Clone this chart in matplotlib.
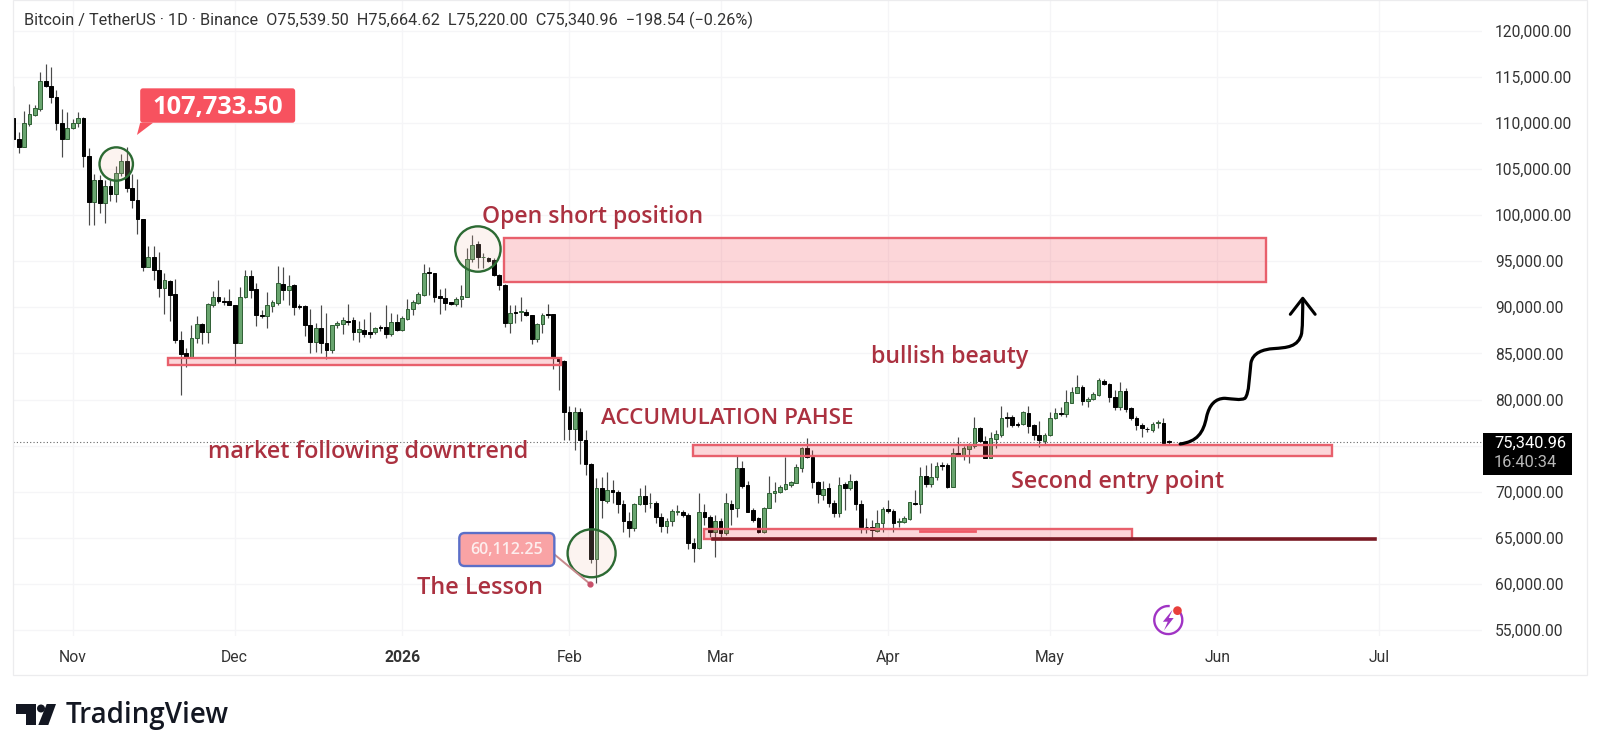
import matplotlib
matplotlib.use("Agg")
import matplotlib.pyplot as plt
from matplotlib.patches import Rectangle, FancyBboxPatch, Ellipse, Polygon, Arc, PathPatch
from matplotlib.path import Path
import numpy as np

# prices in thousands of USD, one candle per day, day 0 = 1 Nov 2025
days = np.arange(-11, 204)

opens = [
    110.5, 108.2, 107.4, 109.87, 110.87, 111.53, 114.52, 114.04, 112.82, 109.95,
    108.2, 109.46, 109.95, 110.5, 106.46, 101.37, 103.77, 101.29, 103.18, 102.25,
    104.58, 105.91, 102.95, 101.59, 99.63, 94.39, 95.42, 94.02, 92.09, 92.86,
    91.42, 86.47, 85.0, 84.64, 86.66, 88.14, 87.29, 90.24, 91.17, 90.72,
    90.69, 90.24, 86.18, 91.09, 93.38, 91.98, 89.14, 89.03, 90.17, 90.43,
    92.56, 91.9, 92.38, 90.13, 90.16, 88.05, 86.24, 87.74, 86.1, 85.36,
    88.05, 88.16, 88.49, 88.57, 87.34, 87.57, 87.28, 87.28, 87.83, 87.83,
    87.09, 88.42, 87.5, 88.75, 89.8, 90.42, 91.38, 93.81, 93.67, 91.24,
    90.97, 90.53, 90.31, 90.94, 91.12, 95.23, 96.85, 95.42, 95.38, 95.12,
    93.46, 92.44, 88.31, 89.49, 89.49, 89.53, 89.16, 86.54, 88.2, 89.24,
    89.26, 84.46, 84.17, 78.6, 76.76, 78.6, 75.6, 72.97, 62.66, 70.36,
    68.98, 70.18, 70.0, 68.66, 66.82, 66.1, 68.66, 69.57, 68.74, 68.74,
    67.29, 66.28, 66.82, 67.8, 67.83, 67.47, 64.47, 63.86, 67.76, 67.29,
    65.66, 66.82, 65.48, 68.63, 68.2, 72.53, 70.72, 68.0, 67.11, 65.66,
    68.2, 69.82, 69.93, 70.29, 70.72, 70.98, 72.57, 74.77, 73.8, 71.09,
    69.64, 70.36, 68.74, 67.66, 70.8, 70.37, 71.2, 68.67, 66.21, 66.21,
    65.78, 66.57, 68.09, 67.95, 66.71, 66.75, 67.04, 68.81, 68.67, 71.7,
    70.8, 71.56, 72.9, 72.9, 70.48, 74.24, 73.91, 74.63, 75.0, 76.87,
    75.5, 73.69, 75.72, 76.15, 78.14, 78.14, 77.35, 77.35, 78.5, 77.2,
    76.15, 75.54, 76.15, 77.96, 78.57, 78.43, 79.66, 80.74, 81.32, 79.87,
    80.02, 80.49, 82.05, 81.65, 80.31, 79.15, 80.96, 79.04, 78.03, 77.24,
    76.84, 76.69, 77.42, 77.49, 75.54,
]
highs = [
    113.95, 109.0, 111.24, 112.05, 111.9, 115.48, 116.44, 116.03, 113.56, 111.53,
    111.13, 110.43, 111.13, 110.68, 107.25, 104.51, 104.33, 103.77, 103.77, 105.32,
    106.65, 107.38, 104.51, 103.96, 99.63, 96.68, 96.6, 95.95, 93.74, 92.94,
    93.08, 87.4, 85.55, 88.06, 89.03, 88.29, 90.43, 91.72, 93.01, 91.17,
    91.98, 90.24, 92.2, 94.02, 94.02, 92.64, 89.69, 91.61, 90.8, 94.47,
    94.39, 93.45, 92.56, 90.35, 90.24, 89.87, 88.31, 90.24, 89.42, 88.13,
    88.49, 88.97, 90.34, 88.97, 88.49, 88.68, 89.54, 87.87, 88.13, 90.24,
    89.34, 89.24, 89.04, 90.86, 90.79, 91.71, 94.75, 94.4, 93.74, 91.97,
    92.08, 90.61, 91.09, 92.44, 96.41, 97.89, 97.15, 95.93, 95.49, 95.31,
    93.57, 92.56, 90.24, 90.24, 91.09, 89.86, 89.19, 88.31, 89.42, 90.35,
    89.26, 84.64, 84.28, 79.3, 79.22, 79.04, 76.69, 73.07, 71.45, 71.56,
    72.17, 71.27, 70.18, 69.1, 67.83, 68.81, 70.36, 70.72, 69.9, 69.03,
    67.65, 67.11, 68.09, 68.55, 68.0, 67.65, 64.94, 69.82, 68.66, 67.47,
    67.47, 67.11, 69.9, 69.1, 73.87, 73.36, 71.2, 68.2, 67.29, 68.37,
    71.7, 71.09, 70.72, 73.8, 71.2, 73.0, 74.88, 75.79, 74.52, 71.2,
    71.2, 70.9, 69.1, 71.63, 71.09, 71.92, 71.27, 69.1, 67.11, 66.93,
    68.0, 68.31, 69.1, 68.09, 67.11, 67.37, 68.85, 70.19, 72.64, 72.9,
    73.08, 73.26, 73.2, 73.08, 74.7, 75.9, 74.96, 75.25, 78.14, 77.06,
    76.04, 76.51, 76.69, 79.3, 78.68, 78.32, 77.6, 78.79, 79.3, 77.35,
    77.71, 76.33, 78.68, 79.04, 79.22, 81.03, 81.39, 82.66, 81.57, 80.24,
    80.85, 82.3, 82.23, 81.76, 81.03, 81.86, 81.21, 79.15, 78.21, 77.42,
    77.06, 77.6, 77.78, 77.96, 75.66,
]
lows = [
    107.4, 106.75, 107.4, 109.65, 110.76, 111.24, 113.93, 112.16, 109.21, 106.28,
    108.2, 109.39, 109.51, 105.25, 98.9, 98.9, 100.26, 99.15, 101.48, 101.37,
    104.22, 102.47, 100.74, 97.9, 93.95, 94.39, 92.94, 91.17, 89.24, 88.51,
    86.11, 80.48, 83.54, 84.64, 86.11, 86.04, 86.18, 90.06, 90.43, 90.24,
    90.24, 83.8, 86.18, 90.98, 90.98, 87.92, 88.87, 87.77, 89.51, 90.24,
    90.8, 90.24, 89.14, 89.87, 86.84, 84.99, 85.18, 85.07, 84.44, 84.99,
    87.74, 87.14, 88.13, 86.47, 86.28, 86.74, 86.64, 87.13, 87.39, 86.64,
    86.84, 87.39, 87.39, 88.61, 89.14, 90.35, 91.24, 91.34, 90.61, 89.24,
    89.69, 90.24, 90.16, 90.05, 91.12, 94.94, 94.31, 94.31, 94.94, 93.35,
    91.9, 87.87, 87.21, 88.31, 88.5, 89.04, 86.03, 86.28, 87.21, 88.84,
    83.34, 81.03, 75.6, 75.6, 74.52, 73.0, 71.81, 62.23, 60.11, 67.11,
    68.74, 68.74, 67.72, 65.66, 65.05, 65.77, 68.56, 67.83, 68.2, 66.57,
    65.66, 65.48, 66.28, 67.47, 67.29, 63.75, 62.41, 63.75, 66.39, 65.12,
    62.95, 65.12, 65.3, 66.39, 67.29, 70.36, 67.83, 66.75, 65.48, 65.55,
    68.2, 68.92, 69.82, 70.18, 70.54, 70.9, 72.17, 73.62, 70.36, 68.74,
    69.1, 68.37, 67.3, 67.3, 68.0, 70.19, 68.0, 65.49, 65.49, 64.94,
    65.67, 65.67, 67.66, 65.67, 66.21, 66.57, 66.93, 68.56, 67.66, 70.55,
    70.55, 71.27, 72.4, 70.37, 70.48, 73.87, 73.44, 73.08, 74.7, 75.43,
    73.62, 73.62, 74.7, 75.9, 77.06, 77.06, 76.98, 77.24, 76.33, 75.61,
    74.89, 75.07, 76.04, 77.89, 78.21, 78.14, 79.59, 80.67, 79.4, 79.15,
    79.95, 80.38, 81.57, 79.77, 78.86, 78.86, 78.68, 77.78, 76.69, 75.97,
    76.51, 76.51, 76.88, 75.25, 75.22,
]
closes = [
    108.2, 107.4, 109.95, 110.98, 111.6, 114.52, 114.04, 112.82, 109.95, 108.2,
    109.46, 109.95, 110.5, 106.46, 101.37, 103.77, 101.29, 103.15, 102.25, 104.58,
    105.91, 102.95, 101.59, 99.56, 94.39, 95.42, 94.02, 92.09, 92.94, 91.34,
    86.47, 84.93, 84.64, 86.66, 88.14, 87.29, 90.36, 91.17, 90.72, 90.58,
    90.24, 86.18, 91.09, 93.38, 91.9, 89.14, 89.03, 90.24, 90.54, 92.64,
    91.9, 92.34, 90.06, 90.02, 88.05, 86.24, 87.74, 86.1, 85.36, 88.05,
    88.31, 88.61, 88.42, 87.34, 87.64, 87.09, 87.13, 87.74, 87.79, 87.09,
    88.42, 87.5, 88.79, 89.83, 90.53, 91.42, 93.74, 93.67, 91.16, 91.05,
    90.5, 90.31, 90.94, 91.2, 95.23, 96.78, 95.42, 95.49, 95.01, 93.46,
    92.44, 88.31, 89.42, 89.42, 89.6, 89.12, 86.54, 88.24, 89.19, 89.19,
    84.52, 84.21, 78.6, 76.76, 78.6, 75.6, 72.97, 62.66, 70.36, 69.1,
    70.18, 70.0, 68.63, 66.82, 66.1, 68.66, 69.57, 68.66, 68.81, 67.29,
    66.28, 66.86, 67.87, 67.87, 67.47, 64.4, 63.86, 67.8, 67.29, 65.66,
    66.86, 65.48, 68.74, 68.12, 72.53, 70.62, 67.83, 66.93, 65.66, 68.27,
    69.82, 70.07, 70.47, 70.83, 71.09, 72.64, 74.77, 73.8, 71.09, 69.71,
    70.29, 68.74, 67.66, 70.73, 70.44, 71.2, 68.67, 66.21, 66.14, 65.85,
    66.64, 68.09, 67.95, 66.64, 66.86, 67.11, 68.85, 68.67, 71.7, 70.84,
    71.63, 72.79, 72.83, 70.48, 74.24, 73.98, 74.7, 75.07, 76.87, 75.5,
    73.69, 75.79, 76.22, 78.03, 78.03, 77.24, 77.2, 78.61, 77.13, 76.15,
    75.61, 76.15, 78.03, 78.57, 78.43, 79.69, 80.78, 81.32, 79.84, 80.02,
    80.56, 82.12, 81.65, 80.31, 79.15, 80.96, 78.94, 77.96, 77.24, 76.87,
    76.77, 77.35, 77.53, 75.32, 75.34,
]

price_ticks = [55, 60, 65, 70, 75, 80, 85, 90, 95, 100, 105, 110, 115, 120]
price_labels = ["55,000.00", "60,000.00", "65,000.00", "70,000.00", "", "80,000.00", "85,000.00",
                "90,000.00", "95,000.00", "100,000.00", "105,000.00", "110,000.00", "115,000.00", "120,000.00"]
month_ticks = [0, 30, 61, 92, 120, 151, 181, 212, 242]
month_labels = ["Nov", "Dec", "2026", "Feb", "Mar", "Apr", "May", "Jun", "Jul"]
last_price = 75.34096

RED_TEXT = "#ab3140"
ZONE_EDGE = "#e8606c"
ZONE_FILL = (0.95, 0.21, 0.27, 0.2)
GREEN_BODY = "#69a56f"
GREEN_EDGE = "#2f5f34"
CIRCLE_EDGE = "#2c6a33"
FONT = "Open Sans"

fig = plt.figure(figsize=(16, 7.55), dpi=100)
ax = fig.add_axes([13.3 / 1600, 1 - 636 / 755, (1482 - 13.3) / 1600, 636 / 755])
ax.set_xlim(-11.0, 261.0)
ax.set_ylim(54.35, 123.33)

for side in ax.spines.values():
    side.set_visible(False)
ax.grid(True, color="#f5f5f7", linewidth=0.9)
ax.set_axisbelow(True)

# candles
o = np.array(opens)
c = np.array(closes)
up = c >= o
ax.vlines(days, lows, highs, color="#4a4a4a", linewidth=0.85, zorder=2)
ax.bar(days[up], (c - o)[up], bottom=o[up], width=0.68, color=GREEN_BODY,
       edgecolor=GREEN_EDGE, linewidth=0.7, zorder=3)
ax.bar(days[~up], (o - c)[~up], bottom=c[~up], width=0.68, color="black",
       edgecolor="black", linewidth=0.7, zorder=3)

# last price dotted line
ax.axhline(last_price, color="#666666", linewidth=0.8, linestyle=(0, (1, 2)), zorder=1)


def zone(d0, d1, p0, p1):
    ax.add_patch(Rectangle((d0, p0), d1 - d0, p1 - p0, facecolor=ZONE_FILL,
                           edgecolor=ZONE_EDGE, linewidth=1.7, zorder=4))


zone(79.9, 221.0, 92.74, 97.52)
zone(17.7, 90.5, 83.74, 84.5)
zone(114.9, 233.2, 73.88, 75.07)
zone(116.9, 196.2, 64.84, 65.99)
ax.plot([156.9, 167.1], [65.74, 65.74], color="#ee5a66", linewidth=2, zorder=4)
ax.plot([118.6, 241.2], [64.87, 64.87], color="#7a1a24", linewidth=2.6, zorder=4)

# circles round the turning points
for cx, cy, w, h in [(8.06, 105.54, 6.19, 3.62), (75.04, 96.32, 8.41, 4.92), (96.1, 63.32, 8.89, 5.2)]:
    ax.add_patch(Ellipse((cx, cy), w, h, facecolor=(0.95, 0.75, 0.68, 0.18),
                         edgecolor=CIRCLE_EDGE, linewidth=1.7, zorder=5))

# high label
ax.add_patch(Polygon([(12.5, 110.02), (14.9, 110.02), (11.9, 108.69)], closed=True,
                     facecolor="#f7525f", edgecolor="none", zorder=6))
ax.add_patch(FancyBboxPatch((12.5, 110.02), 28.7, 3.73, boxstyle="round,pad=0,rounding_size=0.5",
                            mutation_aspect=0.586, facecolor="#f7525f", edgecolor="none", zorder=6))
ax.text(26.85, 111.67, "107,733.50", color="white", fontsize=18.3, fontweight="bold",
        family=FONT, ha="center", va="center", zorder=7)

# low label
ax.plot([89.2, 95.8], [63.2, 60.0], color="#c78a8d", linewidth=1.4, zorder=5)
ax.plot([95.8], [60.0], marker="o", markersize=3.5, color="#c8506a", zorder=5)
ax.add_patch(FancyBboxPatch((71.6, 61.94), 17.6, 3.58, boxstyle="round,pad=0,rounding_size=1.0",
                            mutation_aspect=0.586, facecolor="#f9a3a5", edgecolor="#5b6fc8",
                            linewidth=1.7, zorder=6))
ax.text(80.4, 63.68, "60,112.25", color="#fdeeee", fontsize=11.5, fontweight="semibold",
        family=FONT, ha="center", va="center", zorder=7)

# hand written notes
notes = [
    (75.8, 99.82, "Open short position", 16.6),
    (147.9, 84.64, "bullish beauty", 16.7),
    (97.9, 77.96, "ACCUMULATION PAHSE", 16.2),
    (25.0, 74.28, "market following downtrend", 16.8),
    (173.8, 71.06, "Second entry point", 16.8),
    (63.8, 59.58, "The Lesson", 16.9),
]
for nx, ny, label, size in notes:
    ax.text(nx, ny, label, color=RED_TEXT, fontsize=size, fontweight="semibold", family=FONT,
            ha="left", va="center", zorder=7)

# squiggly arrow
arrow_pts = [(205.1, 75.18), (208.2, 75.43), (209.4, 76.34), (210.0, 78.14), (210.5, 79.41), (211.6, 80.13),
             (213.4, 80.13), (215.0, 80.06), (216.2, 79.88), (217.1, 80.13), (217.9, 80.67), (217.9, 82.48),
             (218.2, 83.93), (218.5, 85.08), (220.5, 85.45), (222.4, 85.52), (224.8, 85.63), (227.0, 85.66),
             (227.6, 87.18), (227.8, 88.27), (227.8, 89.71), (227.8, 90.87)]
codes = [Path.MOVETO] + [Path.CURVE4] * (len(arrow_pts) - 1)
ax.add_patch(PathPatch(Path(arrow_pts, codes), facecolor="none", edgecolor="black", linewidth=2.3,
                       capstyle="round", zorder=6))
ax.plot([225.5, 227.8, 230.1], [89.24, 90.98, 89.24], color="black", linewidth=2.2,
        solid_capstyle="round", solid_joinstyle="round", zorder=6)

# purple flash icon
ax.add_patch(Arc((202.9, 56.08), 5.19, 3.04, theta1=80, theta2=20, edgecolor="#a033c4", linewidth=1.7, zorder=6))
ax.add_patch(Polygon([(203.7, 57.2), (201.9, 55.9), (202.8, 55.9), (202.1, 54.95), (203.9, 56.3), (203.0, 56.3)],
                     closed=True, facecolor="#a033c4", edgecolor="none", zorder=6))
ax.add_patch(Ellipse((204.6, 57.1), 1.6, 0.95, facecolor="#e8403c", edgecolor="none", zorder=7))

# axes labels
ax.set_xticks(month_ticks)
ax.set_xticklabels(month_labels, fontsize=11.3, color="#333333", family="Roboto")
ax.get_xticklabels()[2].set_fontweight("bold")
ax.tick_params(axis="x", length=0, pad=10)
ax.yaxis.tick_right()
ax.set_yticks(price_ticks)
ax.set_yticklabels(price_labels, fontsize=11.2, color="#333333", family="Roboto", ha="left")
ax.tick_params(axis="y", length=0, pad=9.4)

# last price tag on the scale
ax.add_patch(Rectangle((261.2, 71.81), 16.4, 4.59, facecolor="black", edgecolor="none", clip_on=False, zorder=8))
ax.text(263.2, 75.2, "75,340.96", color="white", fontsize=11.8, family="Roboto", ha="left", va="center", zorder=9)
ax.text(263.2, 73.15, "16:40:34", color="#b8b8b8", fontsize=11.8, family="Roboto", ha="left", va="center", zorder=9)

# header line
fig.text(23.5 / 1600, 1 - 20.5 / 755,
         "Bitcoin / TetherUS · 1D · Binance  O75,539.50  H75,664.62  L75,220.00  C75,340.96  −198.54 (−0.26%)",
         fontsize=11.7, color="#333333", family="Roboto", ha="left", va="center")

# frame round the chart
fig.add_artist(Rectangle((13.3 / 1600, 1 - 675 / 755), (1587 - 13.3) / 1600, 675 / 755, fill=False,
                         edgecolor="#ececee", linewidth=0.9, transform=fig.transFigure))


def fxy(x, y):
    return (x / 1600, 1 - y / 755)


# TradingView logo
fig.add_artist(Polygon([fxy(16, 704), fxy(36, 704), fxy(36, 725), fxy(26, 725), fxy(26, 714), fxy(16, 714)],
                       closed=True, facecolor="#131722", edgecolor="none", transform=fig.transFigure))
fig.add_artist(Polygon([fxy(56, 704), fxy(46.7, 704), fxy(38.3, 725), fxy(48.3, 725)],
                       closed=True, facecolor="#131722", edgecolor="none", transform=fig.transFigure))
fig.add_artist(Ellipse(fxy(41, 708.5), 8 / 1600, 8 / 755, facecolor="#131722", edgecolor="none",
                       transform=fig.transFigure))
fig.text(65.5 / 1600, 1 - 716 / 755, "TradingView", fontsize=20, fontweight="semibold", color="#131722",
         family=FONT, ha="left", va="center")

fig.savefig("out.png", dpi=100, facecolor="white")
plt.close(fig)
